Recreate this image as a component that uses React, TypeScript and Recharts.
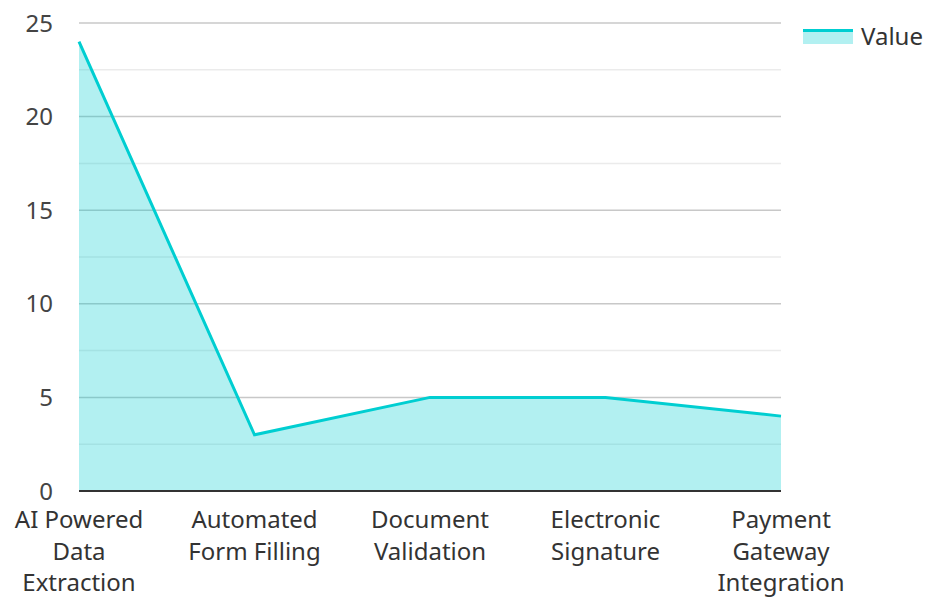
import React from 'react';
import { AreaChart, Area, XAxis, YAxis, CartesianGrid } from 'recharts';

const categories = [
  'AI Powered Data Extraction',
  'Automated Form Filling',
  'Document Validation',
  'Electronic Signature',
  'Payment Gateway Integration',
];
const values = [24, 3, 5, 5, 4];
const yTicks = [0, 5, 10, 15, 20, 25];
const minorTicks = [2.5, 7.5, 12.5, 17.5, 22.5];
const seriesName = 'Value';

const data = categories.map((c, i) => ({ name: c, value: values[i] }));

const FONT = '"Noto Sans", sans-serif';
const LINE = '#00CED1';
const FS = 24;

function wrap(label: string, maxChars: number): string[] {
  const words = label.split(' ');
  const lines: string[] = [];
  let cur = '';
  for (const w of words) {
    const next = cur ? cur + ' ' + w : w;
    if (next.length > maxChars && cur) {
      lines.push(cur);
      cur = w;
    } else {
      cur = next;
    }
  }
  if (cur) lines.push(cur);
  return lines;
}

const XTick = (props: any) => {
  const { x, y, payload } = props;
  const lines = wrap(String(payload.value), 12);
  return (
    <text x={x} y={y} textAnchor="middle" fontSize={FS} fontFamily={FONT} fill="#333">
      {lines.map((l, i) => (
        <tspan key={i} x={x} dy={i === 0 ? 37 : 31.5}>
          {l}
        </tspan>
      ))}
    </text>
  );
};

const LegendBox = () => (
  <div
    style={{
      position: 'absolute',
      left: 795,
      top: 12,
      display: 'flex',
      alignItems: 'center',
      fontFamily: FONT,
      fontSize: FS,
      color: '#333',
      lineHeight: '32px',
      whiteSpace: 'nowrap',
    }}
  >
    <svg width={50} height={16} style={{ marginRight: 8, flexShrink: 0 }}>
      <rect x={0} y={1} width={50} height={15} fill={LINE} fillOpacity={0.3} />
      <line x1={0} x2={50} y1={2.5} y2={2.5} stroke={LINE} strokeWidth={3} />
    </svg>
    <span>{seriesName}</span>
  </div>
);

export default function App() {
  return (
    <div style={{ position: 'relative', width: 915, height: 589 }}>
      <AreaChart
        width={915}
        height={589}
        data={data}
        margin={{ top: 15, right: 142, left: 0, bottom: 6 }}
      >
        <CartesianGrid vertical={false} horizontalValues={minorTicks} stroke="#ebebeb" strokeWidth={1.5} />
        <CartesianGrid vertical={false} horizontalValues={yTicks} stroke="#c8c8c8" strokeWidth={1.5} />
        <XAxis
          dataKey="name"
          height={100}
          tick={<XTick />}
          tickLine={false}
          tickSize={0}
          tickMargin={0}
          interval={0}
          axisLine={{ stroke: '#333', strokeWidth: 2 }}
        />
        <YAxis
          width={71}
          domain={[0, 25]}
          ticks={yTicks}
          axisLine={false}
          tickLine={false}
          tickSize={0}
          tickMargin={26}
          tick={{ fontSize: FS, fontFamily: FONT, fill: '#444' }}
        />
        <Area
          type="linear"
          dataKey="value"
          name={seriesName}
          stroke={LINE}
          strokeWidth={3}
          fill={LINE}
          fillOpacity={0.3}
          isAnimationActive={false}
          dot={false}
          activeDot={false}
        />
      </AreaChart>
      <LegendBox />
    </div>
  );
}
